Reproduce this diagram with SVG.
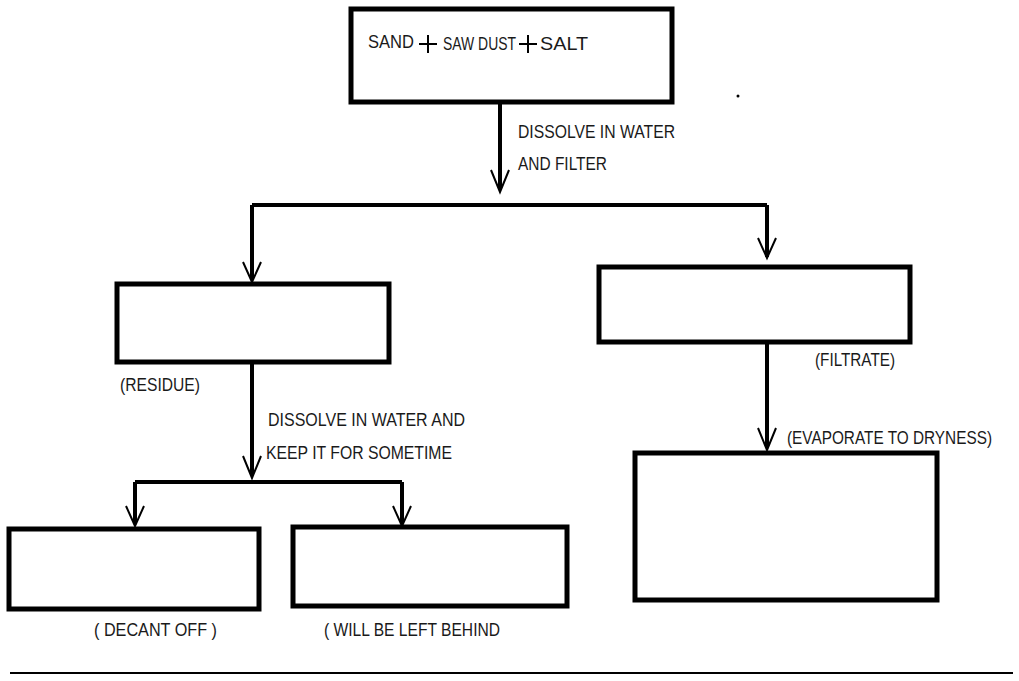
<svg xmlns="http://www.w3.org/2000/svg" width="1019" height="681" viewBox="0 0 1019 681">
<style>
.b{fill:none;stroke:#000;stroke-width:5}
.c{fill:none;stroke:#000;stroke-width:4}
.h{fill:none;stroke:#000;stroke-width:2}
text{font-family:"Liberation Sans",Arial,sans-serif;font-size:19px;fill:#1a1a1a}
</style>
<rect width="1019" height="681" fill="#fff"/>
<g id="top"><rect class="b" x="351" y="9" width="321" height="93"/>
<text x="368" y="48" textLength="46" lengthAdjust="spacingAndGlyphs">SAND</text>
<path class="h" d="M419 44h18M428 35v18M519 44h18M528 35v18"/>
<text x="443" y="50" textLength="73" lengthAdjust="spacingAndGlyphs">SAW DUST</text>
<text x="540" y="50" textLength="48" lengthAdjust="spacingAndGlyphs">SALT</text></g>
<g id="residue"><rect class="b" x="117" y="284" width="272" height="78"/></g>
<g id="filtrate"><rect class="b" x="599" y="267" width="311" height="75"/></g>
<g id="decant"><rect class="b" x="9" y="529" width="250" height="80"/></g>
<g id="left-behind"><rect class="b" x="293" y="527" width="274" height="79"/></g>
<g id="dry"><rect class="b" x="635" y="453" width="302" height="147"/></g>
<g id="connectors">
<path class="c" d="M500 102V190M252 205H767M252 205V280M767 205V257M252 362V476M135 482H402M135 482V524M402 482V524M767 342V448"/>
<path class="h" d="M491 170l9 22 9-22M243 262l9 20 9-20M758 238l9 20 9-20M243 456l9 22 9-22M126 506l9 20 9-20M393 506l9 20 9-20M758 428l9 22 9-22"/>
</g>
<text x="518" y="138" textLength="157" lengthAdjust="spacingAndGlyphs">DISSOLVE IN WATER</text>
<text x="518" y="170" textLength="89" lengthAdjust="spacingAndGlyphs">AND FILTER</text>
<text x="120" y="391" textLength="80" lengthAdjust="spacingAndGlyphs">(RESIDUE)</text>
<text x="268" y="426" textLength="197" lengthAdjust="spacingAndGlyphs">DISSOLVE IN WATER AND</text>
<text x="266" y="459" textLength="186" lengthAdjust="spacingAndGlyphs">KEEP IT FOR SOMETIME</text>
<text x="815" y="366" textLength="80" lengthAdjust="spacingAndGlyphs">(FILTRATE)</text>
<text x="787" y="444" textLength="205" lengthAdjust="spacingAndGlyphs">(EVAPORATE TO DRYNESS)</text>
<text x="94" y="636" textLength="123" lengthAdjust="spacingAndGlyphs">( DECANT OFF )</text>
<text x="324" y="636" textLength="176" lengthAdjust="spacingAndGlyphs">( WILL BE LEFT BEHIND</text>
<circle cx="738" cy="96" r="1.5" fill="#000"/>
<path d="M10 673H1013" stroke="#000" stroke-width="2"/>
</svg>
